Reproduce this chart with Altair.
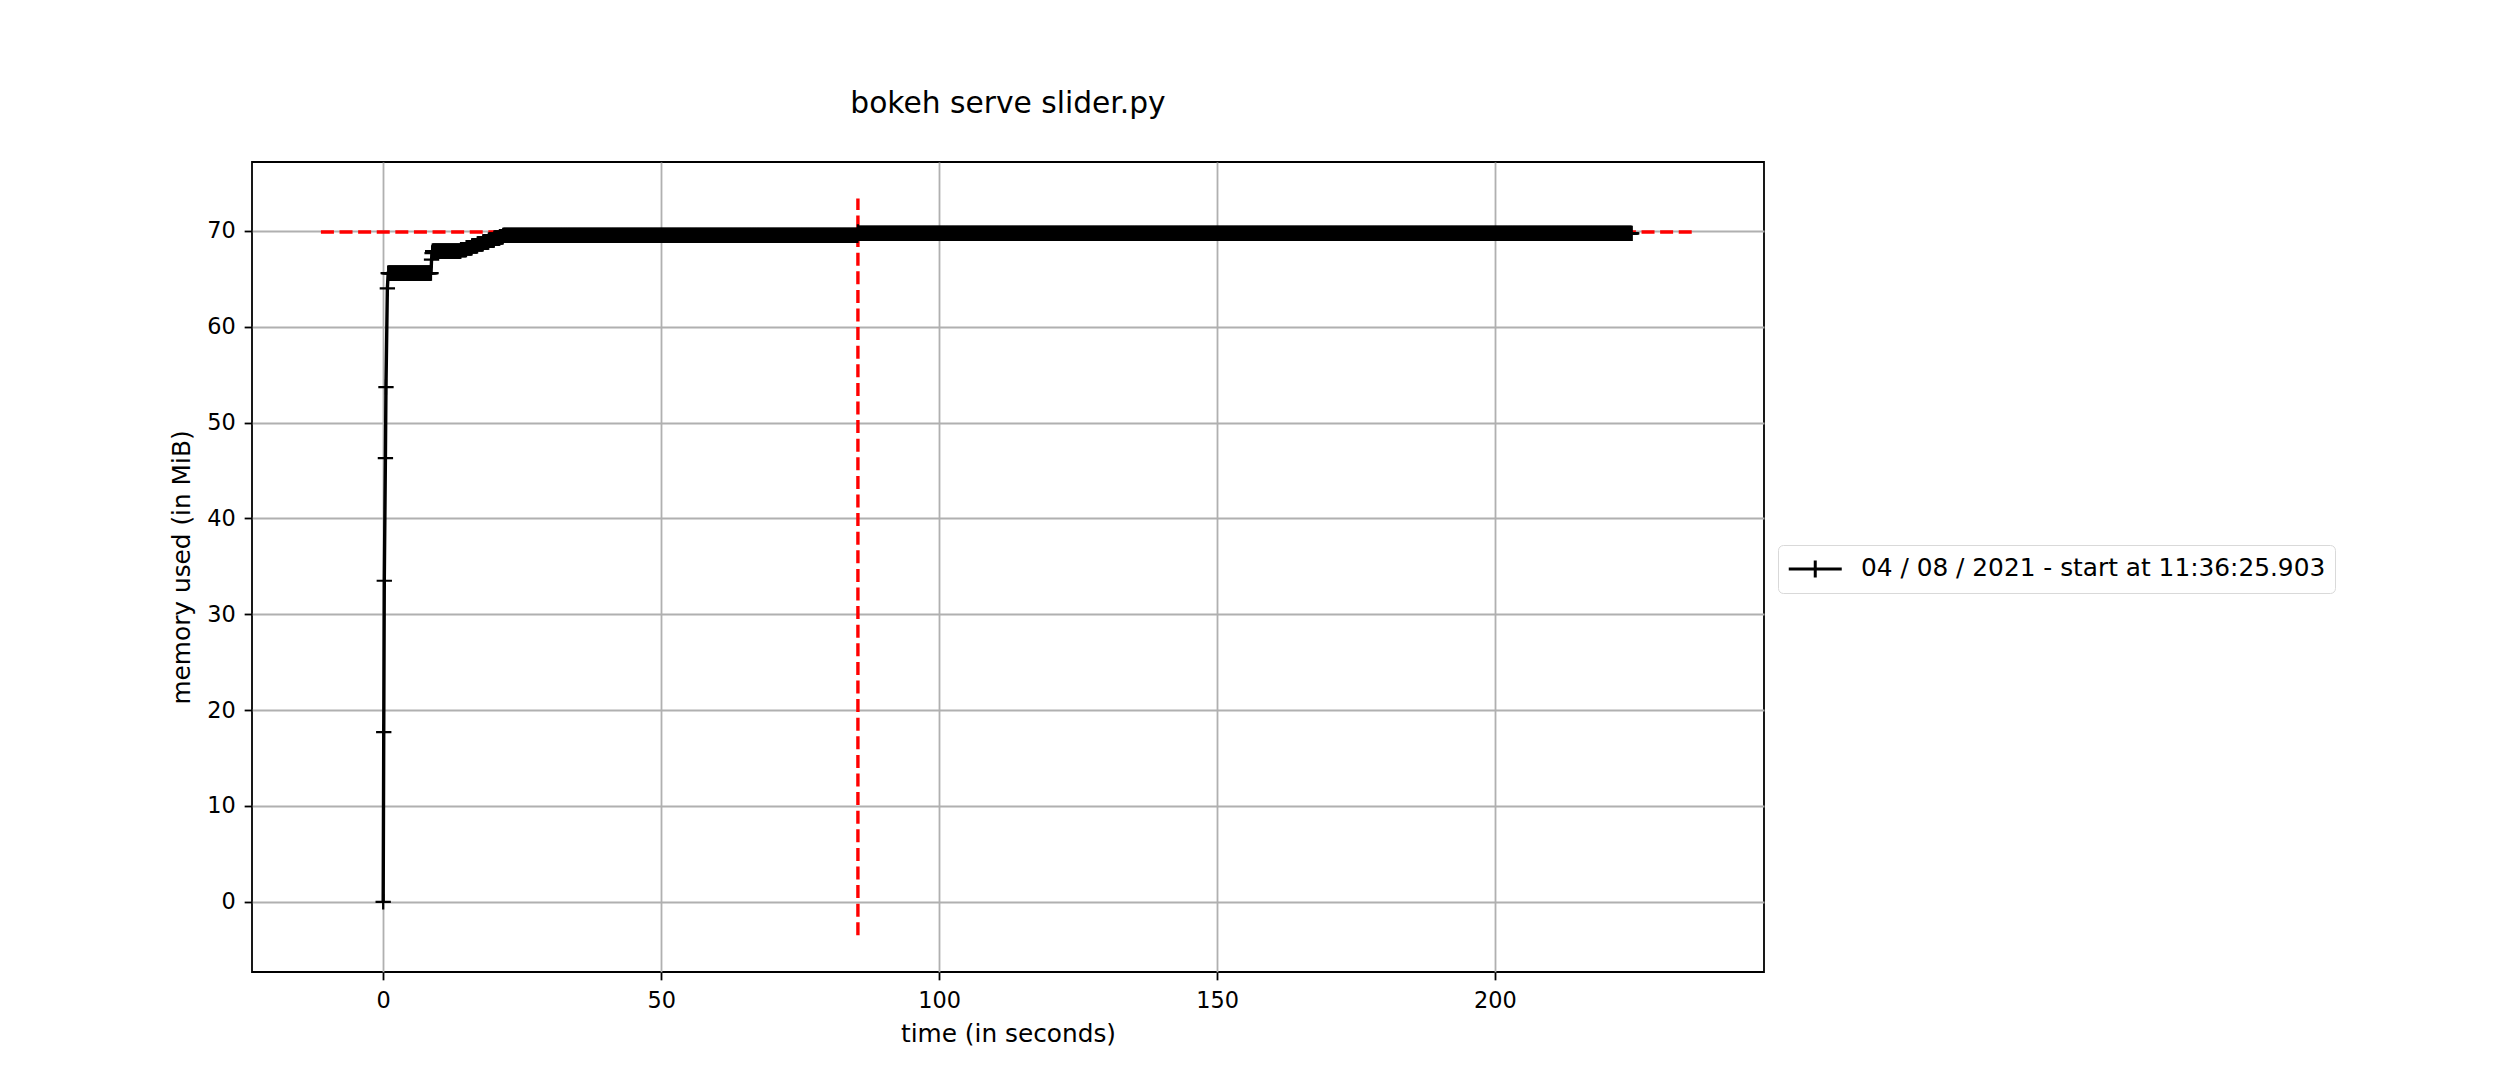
import altair as alt
import pandas as pd

# ---- data ----
SERIES_LABEL = "04 / 08 / 2021 - start at 11:36:25.903"
SAMPLE_STEP = 0.1  # mprof sampling interval (s)

# the fast initial rise (individual samples)
RISE_T = [0.0, 0.1, 0.2, 0.4, 0.5, 0.75]
RISE_MEM = [0.0, 17.7, 33.5, 46.3, 53.7, 64.0]

# steady runs of samples: start time, end time, memory level
RUN_T0 = [0.9, 8.7, 8.8, 8.9, 14.0, 15.0, 16.0, 17.0, 18.0, 19.0, 20.0, 21.0, 21.6, 85.4, 85.5]
RUN_T1 = [8.6, 8.7, 8.8, 13.9, 14.9, 15.9, 16.9, 17.9, 18.9, 19.9, 20.9, 21.5, 85.3, 85.4, 224.6]
RUN_MEM = [65.6, 67.0, 67.7, 67.9, 68.05, 68.25, 68.45, 68.65, 68.85, 69.05, 69.25, 69.4, 69.55, 69.9, 69.75]

# max-memory markers
MAX_T = 85.4
MAX_MEM = 69.9
HLINE_X = [-11.2, 235.8]
VLINE_Y = [-3.5, 73.4]

X_TICKS = [0, 50, 100, 150, 200]
Y_TICKS = [0, 10, 20, 30, 40, 50, 60, 70]
X_DOMAIN = [-23.6, 248.4]
Y_DOMAIN = [-7.33, 77.2]

# ---- build the sample table ----
ts, ms = list(RISE_T), list(RISE_MEM)
for t0, t1, m in zip(RUN_T0, RUN_T1, RUN_MEM):
    n = int(round((t1 - t0) / SAMPLE_STEP)) + 1
    for i in range(n):
        ts.append(round(t0 + i * SAMPLE_STEP, 3))
        ms.append(m)
df = pd.DataFrame({"t": ts, "mem": ms, "series": SERIES_LABEL}).sort_values("t")

FONT = "DejaVu Sans"

xs = alt.Scale(domain=X_DOMAIN, nice=False, zero=False)
ys = alt.Scale(domain=Y_DOMAIN, nice=False, zero=False)

x_axis = alt.Axis(values=X_TICKS, title="time (in seconds)", format="d")
y_axis = alt.Axis(values=Y_TICKS, title="memory used (in MiB)", format="d")

hline = alt.Chart(pd.DataFrame({"x": [HLINE_X[0]], "x2": [HLINE_X[1]], "y": [MAX_MEM]})).mark_rule(
    color="#ff0000", strokeWidth=3.4, strokeDash=[13, 5.6]
).encode(
    x=alt.X("x:Q", scale=xs, axis=x_axis),
    x2="x2:Q",
    y=alt.Y("y:Q", scale=ys, axis=y_axis),
)

vline = alt.Chart(pd.DataFrame({"x": [MAX_T], "y": [VLINE_Y[0]], "y2": [VLINE_Y[1]]})).mark_rule(
    color="#ff0000", strokeWidth=3.4, strokeDash=[13, 5.6]
).encode(
    x=alt.X("x:Q", scale=xs),
    y=alt.Y("y:Q", scale=ys),
    y2="y2:Q",
)

line = alt.Chart(df).mark_line(strokeWidth=3.4, interpolate="linear").encode(
    x=alt.X("t:Q", scale=xs),
    y=alt.Y("mem:Q", scale=ys),
    order="t:Q",
    color=alt.Color(
        "series:N",
        scale=alt.Scale(range=["black"]),
        legend=alt.Legend(
            title=None,
            orient="none",
            legendX=1526,
            legendY=383,
            symbolType="M-1,0H3M1,-0.65V0.65",
            symbolSize=702,
            symbolStrokeWidth=3,
            symbolStrokeColor="black",
            labelFont=FONT,
            labelFontSize=24.8,
            labelColor="black",
            labelOffset=44,
            labelLimit=1000,
            padding=9,
            strokeColor="#d9d9d9",
            fillColor="white",
            cornerRadius=5,
        ),
    ),
)

points = alt.Chart(df).mark_point(
    shape="M-1,0H1M0,-1V1",
    filled=False,
    stroke="black",
    strokeWidth=2.24,
    size=235,
    opacity=1,
).encode(
    x=alt.X("t:Q", scale=xs),
    y=alt.Y("mem:Q", scale=ys),
)

chart = alt.layer(hline, vline, line, points).properties(
    width=1512,
    height=810,
    autosize=alt.AutoSizeParams(type="none"),
    padding={"left": 244, "top": 154, "right": 748, "bottom": 96},
    title=alt.TitleParams(
        "bokeh serve slider.py",
        font=FONT,
        fontSize=29.7,
        fontWeight="normal",
        color="black",
        anchor="middle",
        frame="group",
        baseline="alphabetic",
        offset=19,
    ),
).configure(
    font=FONT,
).configure_view(
    stroke="black",
    strokeWidth=1.8,
).configure_axis(
    grid=True,
    gridColor="#b0b0b0",
    gridWidth=1.8,
    domain=False,
    ticks=True,
    tickColor="black",
    tickWidth=1.8,
    tickSize=7.85,
    labelFont=FONT,
    labelFontSize=22.4,
    labelColor="black",
    labelPadding=9,
    titleFont=FONT,
    titleFontSize=24.8,
    titleFontWeight="normal",
    titleColor="black",
    titlePadding=12,
).configure_axisX(
    labelPadding=10,
    titlePadding=9,
)

chart.save("out.html", embed_options={"renderer": "svg", "actions": False})
